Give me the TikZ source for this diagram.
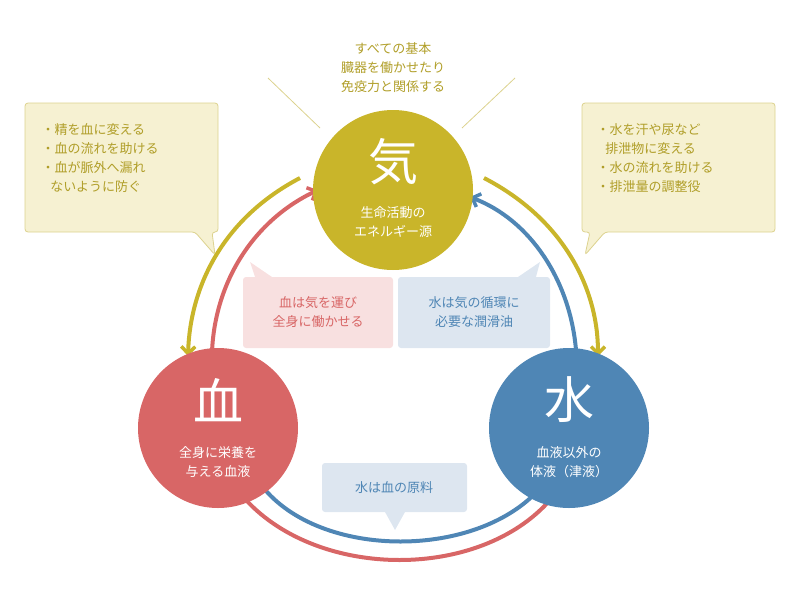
\documentclass[tikz,border=0pt]{standalone}
\usepackage{fontspec}
\setmainfont{Noto Sans CJK JP}
\usetikzlibrary{arrows.meta}
\definecolor{ki}{HTML}{C9B52A}
\definecolor{ketsu}{HTML}{D86666}
\definecolor{sui}{HTML}{4F86B5}
\definecolor{kifill}{HTML}{F6F1D2}
\definecolor{kiline}{HTML}{DCD28E}
\definecolor{pinkfill}{HTML}{F8E0E0}
\definecolor{bluefill}{HTML}{DDE6F0}
\definecolor{kitext}{HTML}{B09E28}
\tikzset{
 big/.style={circle,minimum size=160pt,inner sep=0pt,text=white},
 arc/.style={line width=4pt},
 tip/.style={-{Straight Barb[length=7pt,width=14pt,line width=3.5pt]}},
 lbl/.style={font=\fontsize{13}{19}\selectfont,align=left}
}
\begin{document}
\begin{tikzpicture}[x=1pt,y=-1pt]
\useasboundingbox (0,0) rectangle (800,600);
% arcs
\draw[arc,ki,tip] (300,178) .. controls (220,220) and (190,290) .. (188,356);
\draw[arc,ketsu,tip] (212,352) .. controls (215,280) and (255,220) .. (318,190);
\draw[arc,ki,tip] (484,178) .. controls (565,220) and (598,290) .. (598,356);
\draw[arc,sui,tip] (576,350) .. controls (570,280) and (530,220) .. (470,197);
\draw[arc,sui] (262,486) .. controls (320,560) and (480,560) .. (542,486);
\draw[arc,ketsu] (246,500) .. controls (320,580) and (480,580) .. (550,500);
% circles
\node[big,fill=ki] (qi) at (393,190) {};
\node[font=\fontsize{50}{50}\selectfont,text=white] (qic) at (393,162) {気};
\node[lbl,text=white,align=center] (qit) at (393,222) {生命活動の\\エネルギー源};
\node[big,fill=ketsu] (xue) at (218,428) {};
\node[font=\fontsize{50}{50}\selectfont,text=white] (xuec) at (218,400) {血};
\node[lbl,text=white,align=center] (xuet) at (218,462) {全身に栄養を\\与える血液};
\node[big,fill=sui] (shui) at (569,428) {};
\node[font=\fontsize{50}{50}\selectfont,text=white] (shuic) at (569,400) {水};
\node[lbl,text=white,align=center] (shuit) at (569,462) {血液以外の\\体液（津液）};
% top text
\node[lbl,text=kitext,align=center] (top) at (393,68) {すべての基本\\臓器を働かせたり\\免疫力と関係する};
\coordinate (l1) at (268,78); \coordinate (l2) at (320,128);
\coordinate (r1) at (515,78); \coordinate (r2) at (462,128);
\draw[kiline,line width=0.8pt] (l1)--(l2) (r1)--(r2);
% side boxes
\draw[kiline,fill=kifill,rounded corners=3pt,line width=0.8pt] (25,103)--(218,103)--(218,232)--(212,232)--(215,255)--(195,232)--(25,232)--cycle;
\node[lbl,text=kitext,anchor=north west] (lb) at (38,120) {・精を血に変える\\・血の流れを助ける\\・血が脈外へ漏れ\\\ \ \ ないように防ぐ};
\draw[kiline,fill=kifill,rounded corners=3pt,line width=0.8pt] (582,103)--(775,103)--(775,232)--(605,232)--(585,255)--(590,232)--(582,232)--cycle;
\node[lbl,text=kitext,anchor=north west] (rb) at (593,120) {・水を汗や尿など\\\ \ \ 排泄物に変える\\・水の流れを助ける\\・排泄量の調整役};
% middle boxes
\fill[pinkfill,rounded corners=3pt] (243,277) rectangle (393,348);
\fill[pinkfill] (255,277)--(250,262)--(272,277)--cycle;
\node[lbl,text=ketsu,align=center] (pk) at (318,312) {血は気を運び\\全身に働かせる};
\fill[bluefill,rounded corners=3pt] (398,277) rectangle (550,348);
\fill[bluefill] (518,277)--(540,262)--(536,277)--cycle;
\node[lbl,text=sui,align=center] (bl) at (474,312) {水は気の循環に\\必要な潤滑油};
\fill[bluefill,rounded corners=3pt] (322,463) rectangle (467,512);
\fill[bluefill] (385,512)--(395,530)--(405,512)--cycle;
\node[lbl,text=sui] (bt) at (394,488) {水は血の原料};
\end{tikzpicture}
\end{document}
